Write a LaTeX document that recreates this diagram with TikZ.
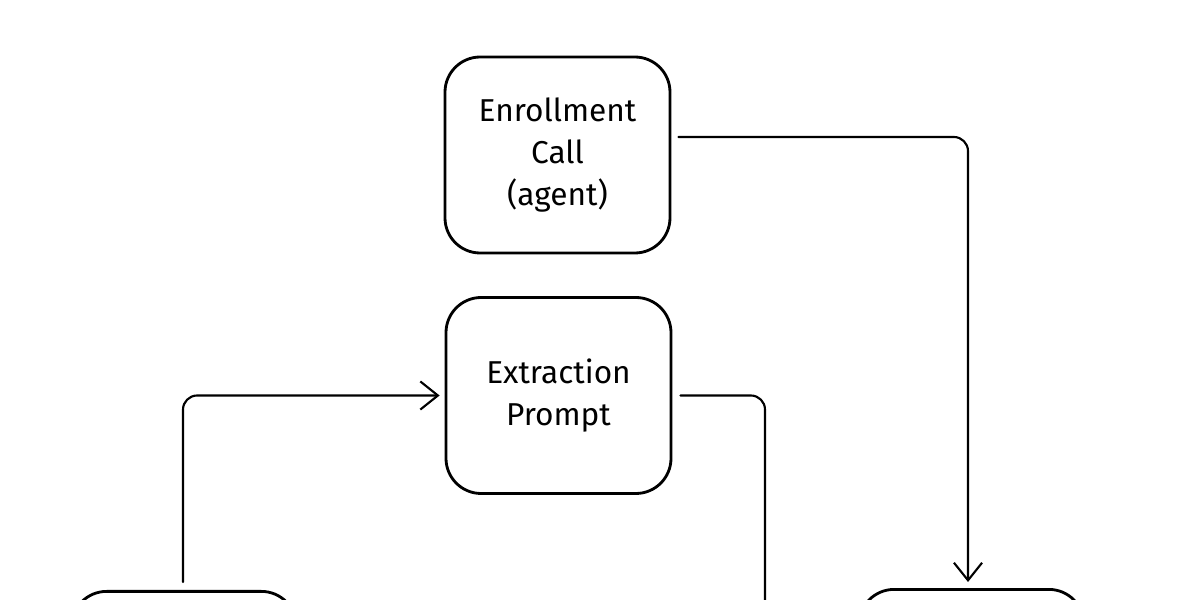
\documentclass[tikz,border=0pt]{standalone}
\usepackage{fontspec}
\setmainfont{Fira Sans}
\usetikzlibrary{positioning,arrows.meta}
\tikzset{
  card/.style={draw, line width=0.8pt, rounded corners=10pt, minimum width=2.25cm,
    minimum height=1.96cm, align=center, font=\fontsize{9}{12}\selectfont},
  flow/.style={line width=0.6pt, rounded corners=4pt, -{Straight Barb[length=5pt,width=8pt]}},
}
\begin{document}
\begin{tikzpicture}[line join=round, line cap=round]

  % frame
  \useasboundingbox (0,0) rectangle (12,6);
  \clip (0,0) rectangle (12,6);

  % boxes
  \node[card] (enroll) at (5.575,4.45) {Enrollment\\Call\\(agent)};
  \node[card] (extract) at (5.585,2.045) {Extraction\\Prompt};
  \node[card, anchor=north] (left) at (1.84,0.1) {};
  \node[card, anchor=north] (right) at (9.715,0.12) {};
  \coordinate (below) at (7.65,-0.5);

  % connectors
  \draw[flow] ([xshift=0.07cm]enroll.east |- 0,4.63) -| ([yshift=0.06cm]right.north -| 9.68,0);
  \draw[flow] ([yshift=0.08cm]left.north -| 1.83,0) |- ([xshift=-0.05cm]extract.west);
  \draw[flow, -] ([xshift=0.08cm]extract.east) -| (below);

\end{tikzpicture}
\end{document}
